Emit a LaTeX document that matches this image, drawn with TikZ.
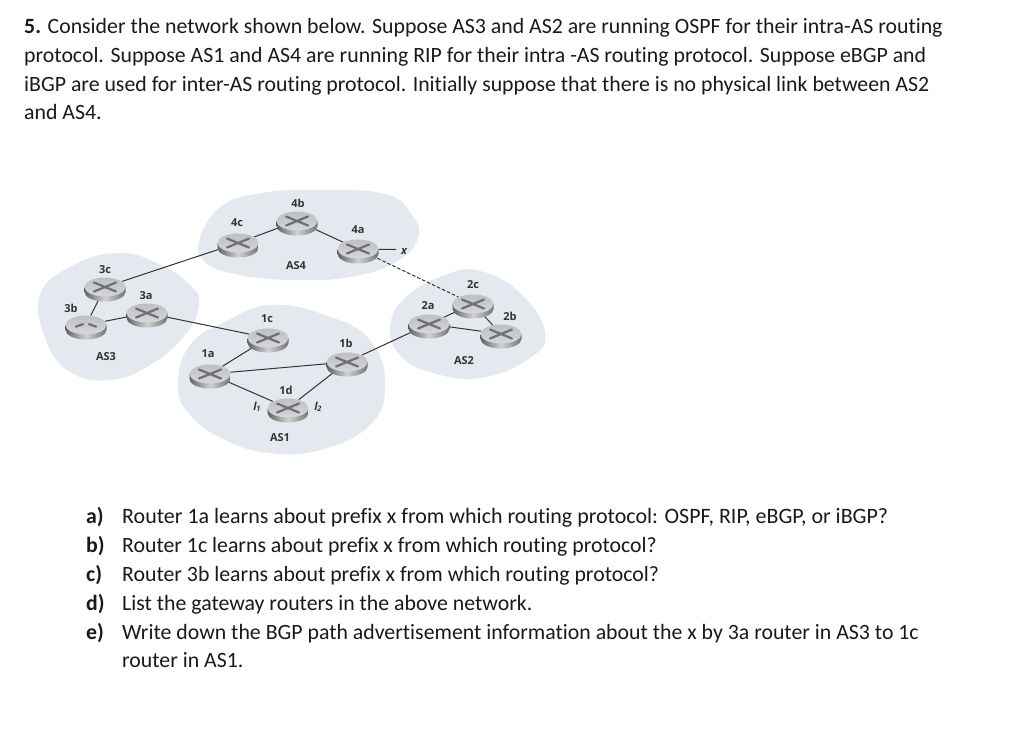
\documentclass[tikz,border=0pt]{standalone}
\usepackage{fontspec}
\setmainfont[Ligatures=NoCommon]{Carlito}
\newfontfamily\figfont{Open Sans}
\usetikzlibrary{shapes.geometric,calc}
\pgfdeclarelayer{blobs}\pgfdeclarelayer{edges}
\pgfsetlayers{blobs,edges,main}
\definecolor{asfill}{HTML}{E4E9F0}
\definecolor{rtop}{HTML}{CFD0D3}
\definecolor{rx}{HTML}{6E6F72}
\definecolor{linkc}{HTML}{333333}
\definecolor{ink}{HTML}{1A1A1A}
\tikzset{
  x=1pt,y=-1pt,
  blob/.style={fill=asfill,draw=none},
  link/.style={draw=linkc,line width=1pt},
  fiberdash/.style={link,dash pattern=on 3.5pt off 2pt},
  routertop/.style={ellipse,inner sep=0pt,minimum width=41pt,minimum height=19pt,top color=rtop!92!black,bottom color=rtop!85!white},
  routerside/.style={left color=black!62,right color=black!55,middle color=black!18},
  routerx/.style={draw=rx,line width=2.2pt,line cap=round},
  lbl/.style={font=\figfont\fontsize{11}{13}\selectfont\bfseries,text=black!80,inner sep=0pt},
  txt/.style={font=\fontsize{21.8}{26}\selectfont,text=ink,inner sep=0pt,anchor=base west},
  txtwide/.style={txt,font=\fontsize{21.98}{26}\selectfont},
}
\newcommand{\routerbody}[3]{%
  \shade[routerside] (#2-20.5,#3) -- (#2-20.5,#3+5) arc[x radius=20.5,y radius=-9.5,start angle=180,end angle=360] -- (#2+20.5,#3) -- cycle;
  \node[routertop] (#1) at (#2,#3) {};
}
\newcommand{\routerat}[3]{%
  \routerbody{#1}{#2}{#3}
  \draw[routerx] (#2-11,#3-4.5) -- (#2+11,#3+4.5) (#2+11,#3-4.5) -- (#2-11,#3+4.5);
}
\begin{document}
\begin{tikzpicture}
\useasboundingbox (0,0) rectangle (1024,742);
\begin{pgfonlayer}{blobs}
\fill[white] (0,0) rectangle (1024,742);
\fill[blob] plot[smooth cycle,tension=.75] coordinates {(200,238) (222,206) (262,193) (320,190) (385,194) (412,215) (418,238) (396,262) (350,277) (295,280) (240,275) (205,262)};
\fill[blob] plot[smooth cycle,tension=.75] coordinates {(40,295) (70,267) (115,253) (155,262) (190,285) (199,305) (185,335) (150,365) (110,380) (70,372) (46,340)};
\fill[blob] plot[smooth cycle,tension=.75] coordinates {(178,385) (190,345) (225,322) (270,305) (325,315) (370,340) (385,385) (370,425) (320,450) (270,453) (225,440) (190,415)};
\fill[blob] plot[smooth cycle,tension=.75] coordinates {(390,328) (405,298) (445,275) (480,271) (520,293) (545,332) (530,358) (480,378) (430,372) (400,355)};
\end{pgfonlayer}
\routerat{r3c}{105}{287}
\routerat{r3a}{147}{313}
\routerbody{r3b}{86}{325}
\draw[routerx] (75.7,326.7) -- (83,324.2) (89,324.2) -- (96.3,326.7);
\routerat{r4c}{238}{243}
\routerat{r4b}{297}{221}
\routerat{r4a}{358}{249}
\routerat{r1c}{268}{338}
\routerat{r1a}{210}{374}
\routerat{r1b}{347}{362}
\routerat{r1d}{288}{408}
\routerat{r2c}{473}{304}
\routerat{r2a}{429}{324}
\routerat{r2b}{501}{334}
\coordinate (xend) at (396,249.5);
\begin{pgfonlayer}{edges}
\draw[link] (r3c) -- (r3b);
\draw[link] (r3b) -- (r3a);
\draw[link] (r3c) -- (r4c);
\draw[link] (r3a) -- (r1c);
\draw[link] (r4c) -- (r4b);
\draw[link] (r4b) -- (r4a);
\draw[link] (r4a) -- (xend);
\draw[fiberdash] (r4a) -- (r2c);
\draw[link] (r1c) -- (r1a);
\draw[link] (r1a) -- (r1b);
\draw[link] (r1a) -- (r1d);
\draw[link] (r1b) -- (r1d);
\draw[link] (r1b) -- (r2a);
\draw[link] (r2a) -- (r2c);
\draw[link] (r2a) -- (r2b);
\draw[link] (r2c) -- (r2b);
\end{pgfonlayer}
\node[lbl] (l3c) at (105,270) {3c};
\node[lbl] (l3a) at (146,296) {3a};
\node[lbl] (l3b) at (71,308) {3b};
\node[lbl] (l4c) at (237,223) {4c};
\node[lbl] (l4b) at (298,203) {4b};
\node[lbl] (l4a) at (358,230) {4a};
\node[lbl] (l1c) at (267,319) {1c};
\node[lbl] (l1a) at (208,354) {1a};
\node[lbl] (l1b) at (346,343) {1b};
\node[lbl] (l1d) at (286,390) {1d};
\node[lbl] (l2c) at (473,285) {2c};
\node[lbl] (l2a) at (428,306) {2a};
\node[lbl] (l2b) at (510,316) {2b};
\node[lbl] (as3) at (106,357) {AS3};
\node[lbl] (as4) at (296,266) {AS4};
\node[lbl] (as1) at (280,438) {AS1};
\node[lbl] (as2) at (464,361) {AS2};
\node[lbl] (xl) at (404,251) {\itshape x};
\node[lbl] (i1) at (257,407) {\itshape l\kern-.3pt\raisebox{-1.5pt}{\fontsize{7.5}{8}\selectfont 1}};
\node[lbl] (i2) at (318,407) {\itshape l\kern-.3pt\raisebox{-1.5pt}{\fontsize{7.5}{8}\selectfont 2}};
\node[txt] (t1) at (24,33.5) {\textbf{5.} Consider the network shown below. Suppose AS3 and AS2 are running OSPF for their intra-AS routing};
\node[txt] (t2) at (24,62) {protocol. Suppose AS1 and AS4 are running RIP for their intra -AS routing protocol. Suppose eBGP and};
\node[txt] (t3) at (24,91) {iBGP are used for inter-AS routing protocol. Initially suppose that there is no physical link between AS2};
\node[txt] (t4) at (24,119.5) {and AS4.};
\node[txt] (qa) at (86,523.5) {\textbf{a)}};
\node[txtwide] (ta) at (122,523.5) {Router 1a learns about prefix x from which routing protocol: OSPF, RIP, eBGP, or iBGP?};
\node[txt] (qb) at (86,552) {\textbf{b)}};
\node[txt] (tb) at (122,552) {Router 1c learns about prefix x from which routing protocol?};
\node[txt] (qc) at (86,581) {\textbf{c)}};
\node[txt] (tc) at (122,581) {Router 3b learns about prefix x from which routing protocol?};
\node[txt] (qd) at (86,610) {\textbf{d)}};
\node[txt] (td) at (122,610) {List the gateway routers in the above network.};
\node[txt] (qe) at (86,639) {\textbf{e)}};
\node[txt] (te) at (122,639) {Write down the BGP path advertisement information about the x by 3a router in AS3 to 1c};
\node[txt] (tf) at (122,667) {router in AS1.};
\end{tikzpicture}
\end{document}
